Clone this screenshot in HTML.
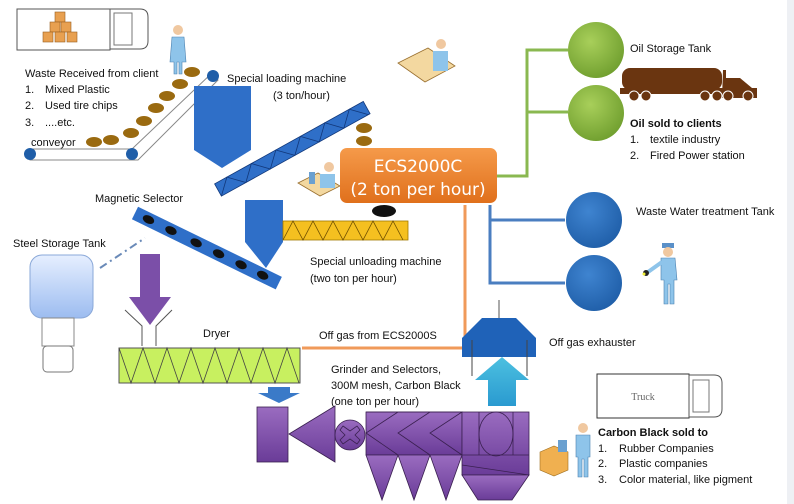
<!DOCTYPE html>
<html><head><meta charset="utf-8"><style>
html,body{margin:0;padding:0;background:#fff;}
svg{display:block;font-family:"Liberation Sans",sans-serif;}
.t{font-size:11px;fill:#111;}
.b{font-size:11px;font-weight:bold;fill:#111;}
</style></head><body>
<svg width="794" height="504" viewBox="0 0 794 504" xmlns="http://www.w3.org/2000/svg">
<defs>
<radialGradient id="gg" cx="40%" cy="35%" r="70%"><stop offset="0" stop-color="#a8cf5a"/><stop offset="1" stop-color="#6f9e2e"/></radialGradient>
<radialGradient id="bg" cx="40%" cy="35%" r="70%"><stop offset="0" stop-color="#3f84d0"/><stop offset="1" stop-color="#1f5ea8"/></radialGradient>
<linearGradient id="og" x1="0" y1="0" x2="0" y2="1"><stop offset="0" stop-color="#f59a4a"/><stop offset="1" stop-color="#e0701c"/></linearGradient>
<linearGradient id="st" x1="0" y1="0" x2="0" y2="1"><stop offset="0" stop-color="#e6efff"/><stop offset="1" stop-color="#9cbcf0"/></linearGradient>
<linearGradient id="cy" x1="0" y1="0" x2="0" y2="1"><stop offset="0" stop-color="#4cc0e0"/><stop offset="1" stop-color="#2a9ad0"/></linearGradient>
<linearGradient id="pu" x1="0" y1="0" x2="0" y2="1"><stop offset="0" stop-color="#9a6cc0"/><stop offset="1" stop-color="#6a3c98"/></linearGradient>
</defs>
<rect x="787" y="0" width="7" height="504" fill="#eef0f4"/>

<rect x="17" y="9" width="93" height="41" fill="#fff" stroke="#555"/>
<path d="M110 9 h30 q8 0 8 8 v24 q0 8-8 8 h-30 z" fill="#fff" stroke="#555"/>
<rect x="114" y="13" width="18" height="32" fill="none" stroke="#777"/>
<g fill="#e8a050" stroke="#9a6020" stroke-width="0.6">
<rect x="55" y="12" width="10" height="10"/><rect x="50" y="22" width="10" height="10"/><rect x="61" y="22" width="10" height="10"/>
<rect x="43" y="32" width="10" height="10"/><rect x="55" y="32" width="10" height="10"/><rect x="67" y="32" width="10" height="10"/></g>
<circle cx="178" cy="30" r="5" fill="#f0c8a0"/>
<path d="M172 37 h12 l2 25 h-4 v12 h-3 v-12 h-2 v12 h-3 v-12 h-4 z" fill="#8ec4ea" stroke="#4a80b0" stroke-width="0.6"/>

<text class="t" x="25" y="77">Waste Received from client</text>
<text class="t" x="25" y="93">1.</text><text class="t" x="45" y="93">Mixed Plastic</text>
<text class="t" x="25" y="109">2.</text><text class="t" x="45" y="109">Used tire chips</text>
<text class="t" x="25" y="126">3.</text><text class="t" x="45" y="126">....etc.</text>
<text class="t" x="31" y="146">conveyor</text>

<path d="M30 149 L132 149 L213 72 L218 80 L138 160 L30 160 Z" fill="#fff" stroke="#888"/>
<circle cx="30" cy="154" r="6" fill="#1f5ea8"/><circle cx="132" cy="154" r="6" fill="#1f5ea8"/><circle cx="213" cy="76" r="6" fill="#1f5ea8"/>
<g fill="#9a6a10">
<ellipse cx="94" cy="142" rx="8" ry="5"/><ellipse cx="111" cy="140" rx="8" ry="5"/><ellipse cx="131" cy="133" rx="8" ry="5"/>
<ellipse cx="144" cy="121" rx="8" ry="5"/><ellipse cx="156" cy="108" rx="8" ry="5"/><ellipse cx="167" cy="96" rx="8" ry="5"/>
<ellipse cx="180" cy="84" rx="8" ry="5"/><ellipse cx="192" cy="72" rx="8" ry="5"/>
<ellipse cx="364" cy="128" rx="8" ry="5"/><ellipse cx="364" cy="141" rx="8" ry="5"/></g>

<text class="t" x="227" y="82">Special loading machine</text>
<text class="t" x="273" y="99">(3 ton/hour)</text>
<path d="M194 86 H251 V150 L222 168 L194 150 Z" fill="#2f6fc8"/>
<g transform="translate(218,190) rotate(-29)">
<rect x="0" y="-7" width="170" height="14" fill="#2f6fc8" stroke="#12387a" stroke-width="0.8"/>
<path d="M0 7 L14 -7 L28 7 L42 -7 L56 7 L70 -7 L84 7 L98 -7 L112 7 L126 -7 L140 7 L154 -7 L168 7" fill="none" stroke="#12387a" stroke-width="0.8"/></g>

<path d="M398 63 L428 48 L455 66 L425 82 Z" fill="#f3d8a0" stroke="#9a7030" stroke-width="0.8"/>
<circle cx="441" cy="44" r="5" fill="#f0c8a0"/>
<path d="M433 51 h15 v20 h-15 z" fill="#8ec4ea"/>
<path d="M298 183 L318 173 L340 186 L320 196 Z" fill="#f3d8a0" stroke="#9a7030" stroke-width="0.8"/>
<circle cx="329" cy="167" r="5" fill="#f0c8a0"/>
<path d="M320 174 h15 v14 h-15 z" fill="#8ec4ea"/>
<rect x="309" y="172" width="6" height="12" fill="#6aa0d0"/>

<rect x="340" y="148" width="157" height="55" rx="7" fill="url(#og)"/>
<text x="418" y="172" font-size="17" fill="#fff" text-anchor="middle" font-family="DejaVu Sans,sans-serif">ECS2000C</text>
<text x="418" y="195" font-size="17" fill="#fff" text-anchor="middle" font-family="DejaVu Sans,sans-serif">(2 ton per hour)</text>

<path d="M497 176 H527 V50 H568 M527 112 H568" fill="none" stroke="#8ab850" stroke-width="3"/>
<circle cx="596" cy="50" r="28" fill="url(#gg)"/><circle cx="596" cy="113" r="28" fill="url(#gg)"/>
<path d="M490 205 V283 H565 M490 220 H565" fill="none" stroke="#4a7ec0" stroke-width="3"/>
<circle cx="594" cy="220" r="28" fill="url(#bg)"/><circle cx="594" cy="283" r="28" fill="url(#bg)"/>
<path d="M465 205 V348 H302" fill="none" stroke="#f09a5a" stroke-width="3"/>

<text class="t" x="630" y="52">Oil Storage Tank</text>
<rect x="622" y="68" width="100" height="22" rx="8" fill="#6a3510"/>
<path d="M723 70 h3 v8 h14 l12 10 h5 v10 h-35 z" fill="#6a3510"/>
<rect x="620" y="88" width="135" height="6" fill="#6a3510"/>
<g fill="#6a3510" stroke="#fff" stroke-width="1"><circle cx="634" cy="96" r="5"/><circle cx="646" cy="96" r="5"/><circle cx="705" cy="96" r="5"/><circle cx="717" cy="96" r="5"/><circle cx="728" cy="96" r="5"/><circle cx="748" cy="96" r="5"/></g>
<text class="b" x="630" y="127">Oil sold to clients</text>
<text class="t" x="630" y="143">1.</text><text class="t" x="650" y="143">textile industry</text>
<text class="t" x="630" y="159">2.</text><text class="t" x="650" y="159">Fired Power station</text>
<text class="t" x="636" y="215">Waste Water treatment Tank</text>
<rect x="662" y="243" width="12" height="5" fill="#5a90c8"/>
<circle cx="668" cy="252" r="5" fill="#f0c8a0"/>
<path d="M661 258 h14 l2 22 h-3 v24 h-4 v-20 h-2 v20 h-4 v-24 h-3 z" fill="#8ec4ea" stroke="#4a80b0" stroke-width="0.6"/>
<path d="M662 262 L648 272" stroke="#8ec4ea" stroke-width="4"/><circle cx="646" cy="273" r="3" fill="#222"/><circle cx="644" cy="274" r="1.5" fill="#ee3"/>

<path d="M245 200 H283 V242 L266 268 L245 242 Z" fill="#2f6fc8"/>
<rect x="283" y="221" width="125" height="19" fill="#f5c020" stroke="#a07800" stroke-width="0.8"/>
<path d="M283 240 L293 221 L303 240 L313 221 L323 240 L333 221 L343 240 L353 221 L363 240 L373 221 L383 240 L393 221 L403 240" fill="none" stroke="#705000" stroke-width="0.8"/>
<ellipse cx="384" cy="211" rx="12" ry="6" fill="#111"/>
<text class="t" x="310" y="265">Special unloading  machine</text>
<text class="t" x="310" y="282">(two ton per hour)</text>

<text class="t" x="95" y="202">Magnetic Selector</text>
<g transform="translate(135,213) rotate(26)">
<rect x="0" y="-7" width="160" height="14" fill="#2f6fc8"/>
<g fill="#111"><ellipse cx="15" cy="0" rx="6" ry="4"/><ellipse cx="40" cy="0" rx="6" ry="4"/><ellipse cx="68" cy="0" rx="6" ry="4"/><ellipse cx="93" cy="0" rx="6" ry="4"/><ellipse cx="118" cy="0" rx="6" ry="4"/><ellipse cx="142" cy="0" rx="6" ry="4"/></g></g>

<text class="t" x="13" y="247">Steel Storage Tank</text>
<rect x="30" y="255" width="63" height="63" rx="12" fill="url(#st)" stroke="#8aa8d8"/>
<rect x="42" y="318" width="32" height="28" fill="#fff" stroke="#888"/>
<rect x="43" y="346" width="30" height="26" rx="4" fill="#fff" stroke="#777"/>
<path d="M100 268 L145 238" stroke="#6a8ab8" stroke-width="2" stroke-dasharray="8,4,2,4"/>

<path d="M140 254 h20 v43 h11 l-21 28 l-21 -28 h11 z" fill="#7b4fa8"/>
<path d="M125 310 L142 326 V346 M172 310 L156 326 V346" fill="none" stroke="#555"/>
<text class="t" x="203" y="337">Dryer</text>
<text class="t" x="319" y="339">Off gas from ECS2000S</text>
<rect x="119" y="348" width="181" height="35" fill="#c8f060" stroke="#555"/>
<path d="M119 348 L131 383 L143 348 L155 383 L167 348 L179 383 L191 348 L203 383 L215 348 L227 383 L239 348 L251 383 L263 348 L275 383 L287 348 L299 383" fill="none" stroke="#444" stroke-width="0.8"/>
<path d="M268 387 h22 v6 h10 l-21 10 l-21 -10 h10 z" fill="#3a7ac8"/>

<text class="t" x="331" y="373">Grinder and Selectors,</text>
<text class="t" x="331" y="389">300M mesh,  Carbon Black</text>
<text class="t" x="331" y="405">(one ton per hour)</text>

<g fill="url(#pu)" stroke="#3a2050" stroke-width="0.8">
<rect x="257" y="407" width="31" height="55"/>
<path d="M289 434 L335 406 V462 Z"/>
<circle cx="350" cy="435" r="15"/>
<path d="M343 426 l7 5 l7 -5 l3 4 l-5 5 l5 5 l-3 4 l-7 -5 l-7 5 l-3 -4 l5 -5 l-5 -5 z" fill="none"/>
<rect x="366" y="412" width="96" height="43"/>
<path d="M366 412 h32 L366 433 L398 455 M398 412 h32 L398 433 L430 455 M430 412 h32 L430 433 L462 455" fill="none"/>
<path d="M366 455 H398 L382 500 Z"/><path d="M398 455 H430 L414 500 Z"/><path d="M430 455 H462 L446 500 Z"/>
<rect x="462" y="412" width="67" height="63"/>
<ellipse cx="496" cy="434" rx="17" ry="22" fill="none"/>
<path d="M479 412 V455 M513 412 V455 M462 455 H529 M462 465 L529 475" fill="none"/>
<path d="M462 475 H529 L512 500 H478 Z"/>
</g>

<path d="M499 300 V318" stroke="#555"/>
<path d="M482 318 H516 L536 338 V357 H462 V338 Z" fill="#1f62b8"/>
<path d="M472 340 V376 M527 340 V376" stroke="#444"/>
<path d="M488 406 V380 h-13 l27 -23 l27 23 h-13 v26 z" fill="url(#cy)"/>
<text class="t" x="549" y="346">Off gas exhauster</text>

<rect x="597" y="374" width="92" height="44" fill="#fff" stroke="#333"/>
<path d="M689 375 h25 q8 0 8 8 v26 q0 8-8 8 h-25 z" fill="#fff" stroke="#555"/>
<rect x="693" y="380" width="16" height="32" fill="none" stroke="#777"/>
<text x="643" y="400" font-size="10" fill="#666" text-anchor="middle" font-family="Liberation Serif,serif">Truck</text>
<text class="b" x="598" y="436">Carbon Black sold to</text>
<text class="t" x="598" y="452">1.</text><text class="t" x="619" y="452">Rubber Companies</text>
<text class="t" x="598" y="467">2.</text><text class="t" x="619" y="467">Plastic companies</text>
<text class="t" x="598" y="483">3.</text><text class="t" x="619" y="483">Color material,  like pigment</text>
<path d="M540 452 l14 -6 l14 6 v18 l-14 6 l-14 -6 z" fill="#f0b050" stroke="#a07020" stroke-width="0.6"/>
<circle cx="583" cy="428" r="5" fill="#f0c8a0"/>
<path d="M576 435 h14 v22 h-2 v20 h-4 v-18 h-2 v18 h-4 v-20 h-2 z" fill="#8ec4ea" stroke="#4a80b0" stroke-width="0.6"/>
<rect x="558" y="440" width="9" height="12" fill="#6aa0d0"/>
</svg>
</body></html>
